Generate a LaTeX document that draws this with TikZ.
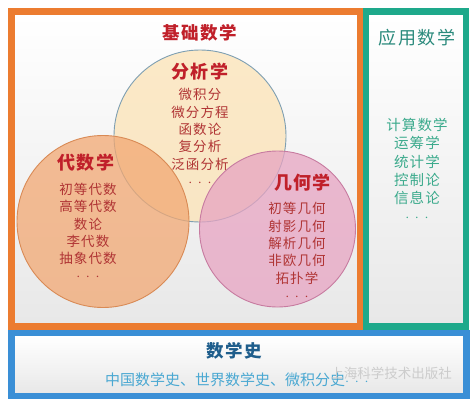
\documentclass[tikz,border=0pt]{standalone}
\usepackage{fontspec}
\setmainfont{Noto Sans CJK SC}
\newfontfamily\spacedfont[LetterSpace=8]{Noto Sans CJK SC}
\usetikzlibrary{positioning}
\definecolor{frameorange}{HTML}{EC7C30}
\definecolor{frameteal}{HTML}{1EA98B}
\definecolor{frameblue}{HTML}{3A8FD6}
\definecolor{titlered}{HTML}{C0202A}
\definecolor{itemred}{HTML}{B03434}
\definecolor{tealtitle}{HTML}{2A8A7C}
\definecolor{tealitem}{HTML}{3BAA8C}
\definecolor{bluetitle}{HTML}{1F5E8C}
\definecolor{blueitem}{HTML}{4AA8D2}
\definecolor{anfill}{HTML}{FCE3B6}
\definecolor{anline}{HTML}{7E9FB2}
\definecolor{alfill}{HTML}{F2A873}
\definecolor{alline}{HTML}{D98A55}
\definecolor{gefill}{HTML}{E7A4C2}
\definecolor{geline}{HTML}{C77BA0}
\newcommand{\tdots}{$\cdot\kern2.5pt\cdot\kern2.5pt\cdot$}
\tikzset{
  framebox/.style={line width=6.5pt},
  inner/.style={top color=white,bottom color=black!9,draw=none},
  maintitle/.style={font=\spacedfont\fontsize{17.5}{20}\selectfont\bfseries,inner sep=0pt},
  circtitle/.style={font=\spacedfont\fontsize{18}{20}\selectfont\bfseries,text=titlered,inner sep=0pt},
  itemlist/.style={font=\spacedfont\fontsize{13.5}{17.3}\selectfont,text=itemred,align=center,inner sep=0pt},
  circ/.style={line width=0.9pt,fill opacity=0.75},
}
\begin{document}
\begin{tikzpicture}[x=1pt,y=-1pt]
\useasboundingbox (0,0) rectangle (474,407);
\fill[white] (0,0) rectangle (474,407);
% frames backgrounds
\shade[inner] (14,15) rectangle (357,323);
\shade[inner] (369,15) rectangle (463,323);
\shade[inner] (14,336) rectangle (463,393);
\draw[framebox,frameorange] (11.5,11.5) rectangle (360,326.5);
\draw[framebox,frameteal] (366,11.5) rectangle (466,326.5);
\draw[framebox,frameblue] (11.5,333) rectangle (466.5,396);
% circles
\draw[circ,fill=anfill,draw=anline] (200,136) circle (86);
\draw[circ,fill=alfill,draw=alline] (103,221.5) circle (86);
\draw[circ,fill=gefill,draw=geline] (277.5,229) circle (78);
% texts
\node[maintitle,text=titlered] (jichu) at (200,33) {基础数学};
\node[circtitle] (fenxi) at (200,72) {分析学};
\node[itemlist] (fenxiitems) at (200,137.5) {微积分\\微分方程\\函数论\\复分析\\泛函分析\\\tdots};
\node[circtitle] (daishu) at (86,163) {代数学};
\node[itemlist] (daishuitems) at (88,232) {初等代数\\高等代数\\数论\\李代数\\抽象代数\\\tdots};
\node[circtitle] (jihe) at (302.5,183) {几何学};
\node[itemlist] (jiheitems) at (297,251.5) {初等几何\\射影几何\\解析几何\\非欧几何\\拓扑学\\\tdots};
\node[maintitle,font=\spacedfont\fontsize{18}{20}\selectfont,text=tealtitle] (yingyong) at (417,38) {应用数学};
\node[itemlist,text=tealitem,font=\spacedfont\fontsize{14.5}{18.2}\selectfont] (yingyongitems) at (417,170) {计算数学\\运筹学\\统计学\\控制论\\信息论\\\tdots};
\node[maintitle,text=bluetitle] (shuxueshi) at (234,351) {数学史};
\node[inner sep=0pt,anchor=west,text=blueitem,font=\fontsize{15}{18}\selectfont] (shiitems) at (105,380) {中国数学史、世界数学史、微积分史\tdots};
\node[inner sep=0pt,text=black!20,font=\fontsize{13.5}{16}\selectfont] (watermark) at (391,373) {上海科学技术出版社};
\end{tikzpicture}
\end{document}
